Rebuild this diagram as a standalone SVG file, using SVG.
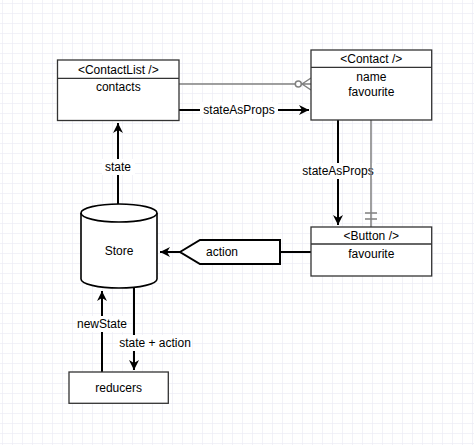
<svg xmlns="http://www.w3.org/2000/svg" width="474" height="445" viewBox="0 0 474 445">
<defs>
<pattern id="grid" x="2" y="3" width="10" height="10" patternUnits="userSpaceOnUse">
<path d="M0 0 H10 M0 0 V10" fill="none" stroke="#e6e6f2" stroke-width="1"/>
</pattern>
<marker id="arr" viewBox="0 0 12 12" refX="11" refY="6" markerWidth="12" markerHeight="12" markerUnits="userSpaceOnUse" orient="auto">
<path d="M1 1 L11 6 L1 11 L4 6 Z" fill="#000"/>
</marker>
<style>
.box{fill:#fff;stroke:#333;stroke-width:1.3}
.t{font-family:"Liberation Sans",Arial,sans-serif;font-size:12px;fill:#000;text-anchor:middle;dominant-baseline:central}
.ln{fill:none;stroke:#000;stroke-width:2}
.gl{fill:none;stroke:#808080;stroke-width:1.5}
.lb{fill:#fff}
</style>
</defs>
<rect width="474" height="445" fill="#fff"/>
<rect width="474" height="445" fill="url(#grid)"/>

<g id="connectors">
<!-- ER connector ContactList - Contact -->
<path class="gl" d="M179 84 H295.3"/>
<circle cx="298.3" cy="84" r="3" fill="#fff" stroke="#808080" stroke-width="1.5"/>
<path class="gl" d="M301.3 84 H311 M302 84 L311 78 M302 84 L311 90"/>
<!-- stateAsProps horizontal -->
<path class="ln" d="M179 110 H309" marker-end="url(#arr)"/>
<rect class="lb" x="200" y="102" width="78" height="16"/>
<text class="t" x="239" y="110">stateAsProps</text>
<!-- Contact -> Button -->
<path class="ln" d="M338 120 V225" marker-end="url(#arr)"/>
<rect class="lb" x="300" y="163" width="76" height="16"/>
<text class="t" x="338" y="171">stateAsProps</text>
<!-- gray ER line Contact - Button -->
<path class="gl" d="M371 120 V227 M365 213 H377 M365 219 H377"/>
<!-- state: Store -> ContactList -->
<path class="ln" d="M118 213 V123" marker-end="url(#arr)"/>
<rect class="lb" x="102" y="159" width="33" height="16"/>
<text class="t" x="118" y="167">state</text>
<!-- action -->
<path class="ln" d="M311 252 H280"/>
<path d="M180 252 L200 240 H280 V264 H200 Z" fill="#fff" stroke="#000" stroke-width="2"/>
<text class="t" x="222" y="252">action</text>
<path class="ln" d="M180 252 H160" marker-end="url(#arr)"/>
<!-- newState -->
<path class="ln" d="M102 372 V291" marker-end="url(#arr)"/>
<rect class="lb" x="77" y="316" width="50" height="16"/>
<text class="t" x="102" y="324">newState</text>
<!-- state + action -->
<path class="ln" d="M134 288 V370" marker-end="url(#arr)"/>
<rect class="lb" x="118" y="335" width="74" height="16"/>
<text class="t" x="155" y="343">state + action</text>
</g>

<g id="contactlist">
<rect class="box" x="57.5" y="60" width="121.5" height="60.5"/>
<path class="box" d="M57.5 78.3 H179"/>
<text class="t" x="118.3" y="69.5">&lt;ContactList /&gt;</text>
<text class="t" x="118.3" y="87">contacts</text>
</g>

<g id="contact">
<rect class="box" x="311" y="50" width="120.7" height="70"/>
<path class="box" d="M311 67.3 H431.7"/>
<text class="t" x="371.3" y="58.5">&lt;Contact /&gt;</text>
<text class="t" x="371.3" y="77">name</text>
<text class="t" x="371.3" y="92">favourite</text>
</g>

<g id="button">
<rect class="box" x="311" y="227" width="120.7" height="49"/>
<path class="box" d="M311 244 H431.7"/>
<text class="t" x="371.3" y="235.5">&lt;Button /&gt;</text>
<text class="t" x="371.3" y="253.5">favourite</text>
</g>

<g id="store">
<path d="M81 213 A38 9 0 0 1 157 213 V279 A38 9 0 0 1 81 279 Z" fill="#fff" stroke="#000" stroke-width="1.6"/>
<path d="M81 213 A38 9 0 0 0 157 213" fill="none" stroke="#000" stroke-width="1.6"/>
<text class="t" x="119" y="251">Store</text>
</g>

<g id="reducers">
<rect class="box" x="69" y="372" width="99.3" height="31.3"/>
<text class="t" x="118.6" y="388">reducers</text>
</g>
</svg>
